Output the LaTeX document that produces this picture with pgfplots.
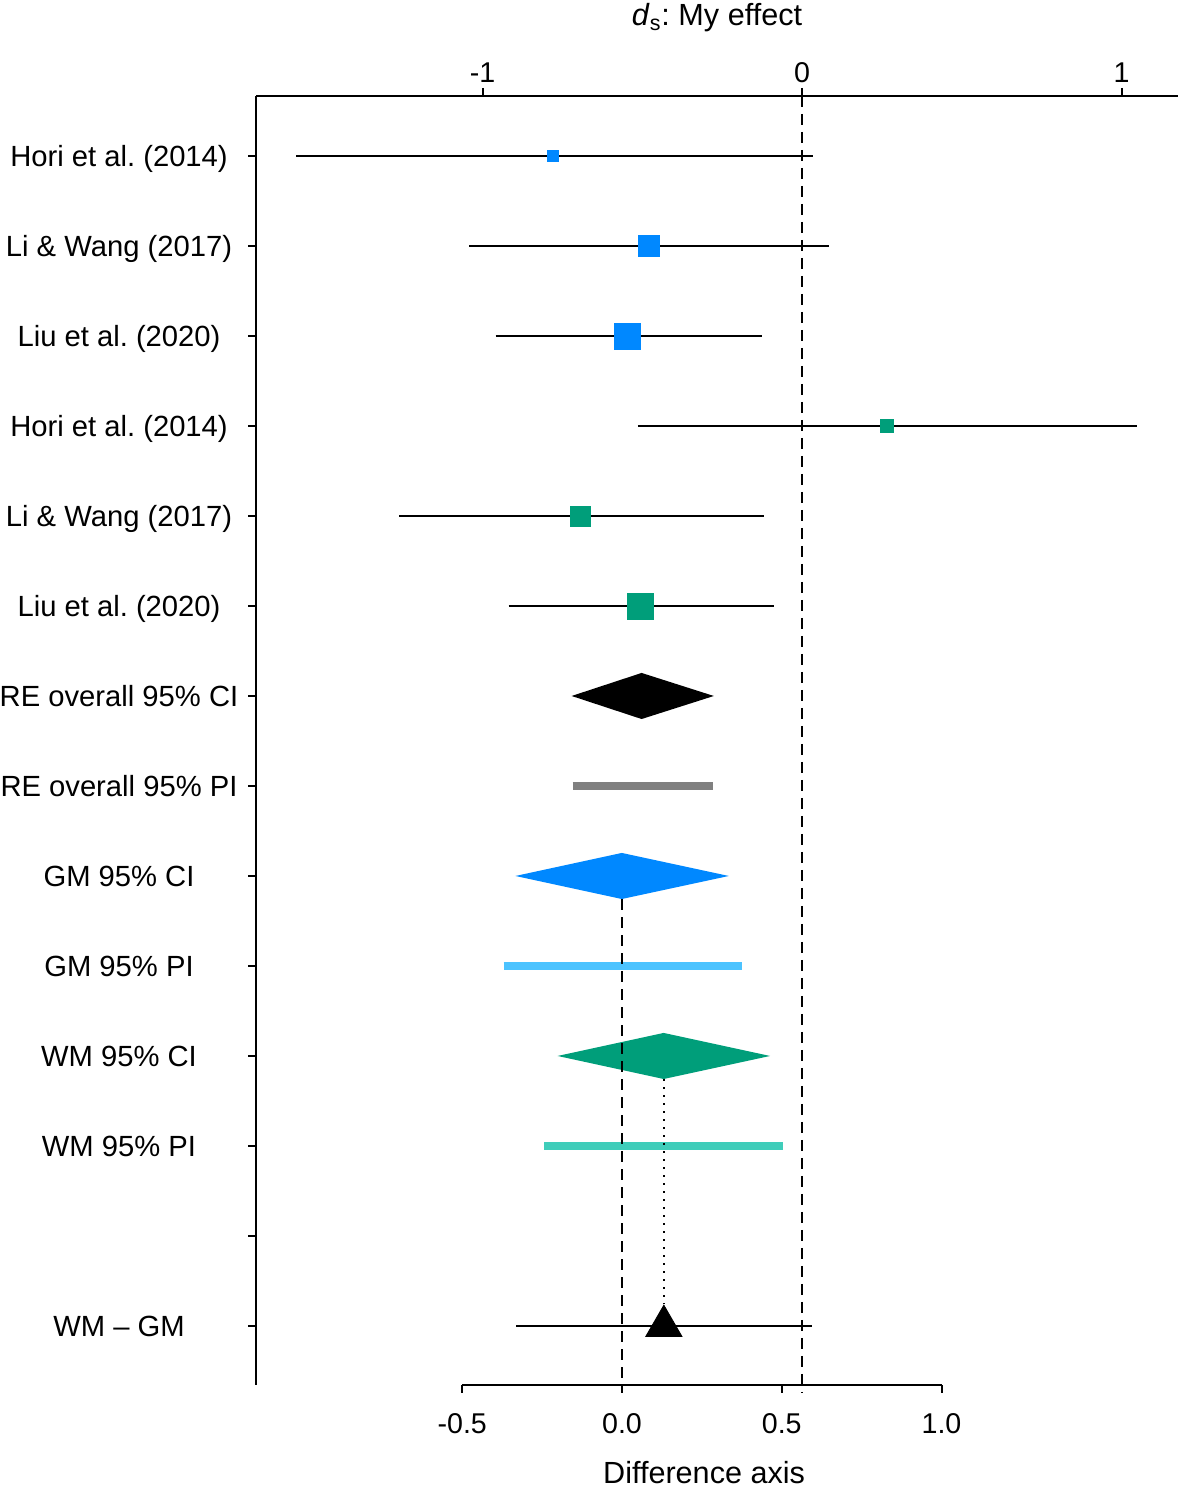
\documentclass[border=0pt]{standalone}
\usepackage{fontspec}
\setmainfont{Liberation Sans}
\usepackage{pgfplots}
\pgfplotsset{compat=1.18}
\definecolor{cblue}{HTML}{0088FF}
\definecolor{clblue}{HTML}{4CC3FF}
\definecolor{cgreen}{HTML}{009E7A}
\definecolor{cturq}{HTML}{3FCDBA}
\definecolor{cgrey}{HTML}{808080}
\frenchspacing
\begin{document}
\begin{tikzpicture}
\pgfplotsset{
  base/.style={
    scale only axis, width=461pt, height=644.5pt,
    ymin=-14.656, ymax=-0.333,
    clip=false,
    tick align=outside,
    major tick length=4pt,
    every tick/.style={black, line width=1pt},
    axis line style={line width=1pt},
    tick label style={font=\fontsize{14.3}{17}\selectfont},
    label style={font=\fontsize{15.3}{18}\selectfont},
    /pgf/number format/assume math mode=true,
  }
}
\begin{axis}[base,
  xmin=-1.7089, xmax=1.1768,
  axis x line*=top, axis y line*=left,
  xtick={-1,0,1},
  xticklabel style={yshift=-1pt},
  ytick={-1,-2,...,-14},
  yticklabels={Hori et al. (2014), Li \& Wang (2017), Liu et al. (2020), Hori et al. (2014), Li \& Wang (2017), Liu et al. (2020), RE overall 95\% CI, RE overall 95\% PI, GM 95\% CI, GM 95\% PI, WM 95\% CI, WM 95\% PI, {}, WM – GM},
  yticklabel style={font=\fontsize{14.6}{17}\selectfont, anchor=base, xshift=-64.5pt, yshift=-5.2pt},
  xlabel={\textit{d}\textsubscript{s}: My effect},
  xlabel style={at={(axis description cs:0.5,1.0543)}, anchor=base},
]
\coordinate (bbsw) at (rel axis cs:-0.27766,-0.080683);
\coordinate (bbne) at (rel axis cs:1.003254,1.074476);
% CI lines
\addplot[black, line width=1pt] coordinates {(-1.583,-1) (0.034,-1)};
\addplot[black, line width=1pt] coordinates {(-1.041,-2) (0.085,-2)};
\addplot[black, line width=1pt] coordinates {(-0.959,-3) (-0.125,-3)};
\addplot[black, line width=1pt] coordinates {(-0.514,-4) (1.047,-4)};
\addplot[black, line width=1pt] coordinates {(-1.260,-5) (-0.119,-5)};
\addplot[black, line width=1pt] coordinates {(-0.918,-6) (-0.088,-6)};
% zero line
\addplot[black, line width=1pt, dash pattern=on 5.5pt off 3.5pt] coordinates {(0,-0.333) (0,-14.744)};
% point estimates
\addplot[only marks, mark=square*, mark size=2.75pt, cblue] coordinates {(-0.781,-1)};
\addplot[only marks, mark=square*, mark size=5.25pt, cblue] coordinates {(-0.480,-2)};
\addplot[only marks, mark=square*, mark size=6.5pt, cblue] coordinates {(-0.545,-3)};
\addplot[only marks, mark=square*, mark size=3.25pt, cgreen] coordinates {(0.266,-4)};
\addplot[only marks, mark=square*, mark size=5pt, cgreen] coordinates {(-0.693,-5)};
\addplot[only marks, mark=square*, mark size=6.5pt, cgreen] coordinates {(-0.505,-6)};
% RE
\addplot[fill=black, draw=none] coordinates {(-0.721,-7) (-0.502,-6.744) (-0.276,-7) (-0.502,-7.256)};
\addplot[cgrey, line width=4.2pt] coordinates {(-0.718,-8) (-0.279,-8)};
% GM
\addplot[fill=cblue, draw=none] coordinates {(-0.897,-9) (-0.564,-8.744) (-0.229,-9) (-0.564,-9.256)};
\addplot[clblue, line width=4.2pt] coordinates {(-0.934,-10) (-0.188,-10)};
% WM
\addplot[fill=cgreen, draw=none] coordinates {(-0.765,-11) (-0.433,-10.744) (-0.100,-11) (-0.433,-11.256)};
\addplot[cturq, line width=4.2pt] coordinates {(-0.806,-12) (-0.060,-12)};
\end{axis}
\begin{axis}[base,
  xmin=-1.1455, xmax=1.7402,
  axis x line*=bottom, axis y line=none,
  x axis line style={draw=none},
  xtick={-0.5,0,0.5,1},
  xticklabel style={yshift=-6.5pt, /pgf/number format/.cd, fixed, fixed zerofill, precision=1},
  xlabel={Difference axis},
  xlabel style={at={(axis description cs:0.486,-0.0764)}, anchor=base},
]
\draw[line width=1pt] (axis cs:-0.5,-14.656) -- (axis cs:1,-14.656);
\addplot[black, line width=1pt, dash pattern=on 5.5pt off 3.5pt] coordinates {(0,-9.256) (0,-14.744)};
\addplot[black, line width=1.1pt, dash pattern=on 1.1pt off 2.9pt] coordinates {(0.131,-11.256) (0.131,-13.75)};
\addplot[black, line width=1pt] coordinates {(-0.331,-14) (0.594,-14)};
\addplot[only marks, mark=triangle*, mark size=10.4pt, black] coordinates {(0.131,-14)};
\end{axis}
\pgfresetboundingbox
\useasboundingbox (bbsw) rectangle (bbne);
\end{tikzpicture}
\end{document}
